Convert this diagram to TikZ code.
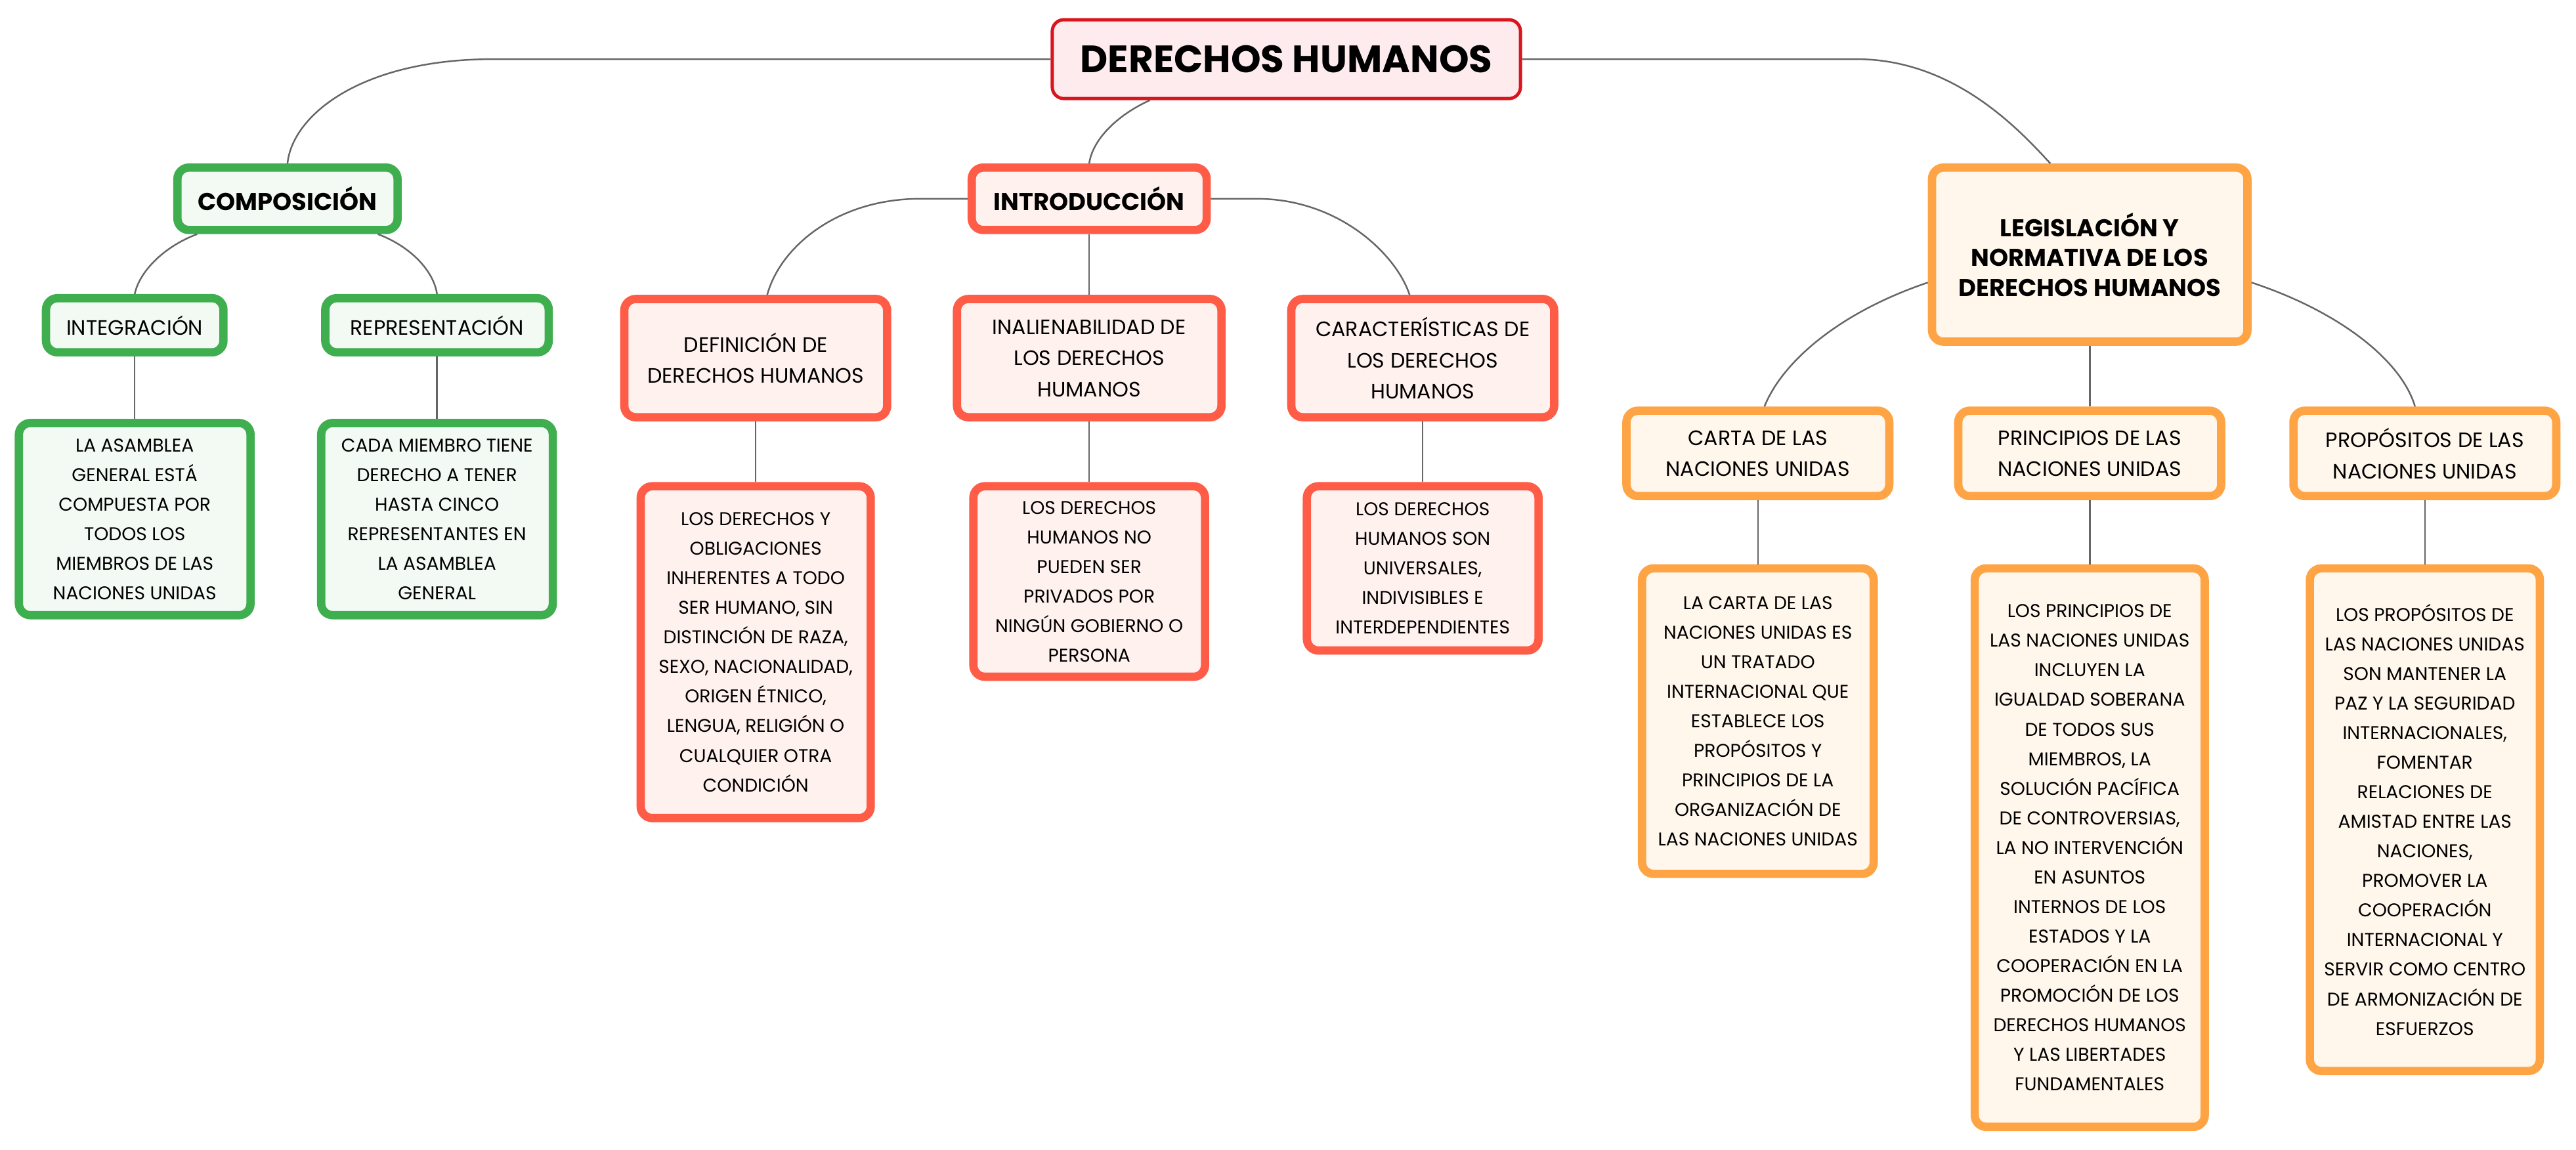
\documentclass[tikz,border=0pt]{standalone}
\usepackage{fontspec}
\setmainfont{Poppins}
\definecolor{gr}{HTML}{3FAE4E}\definecolor{grf}{HTML}{F3FAF4}
\definecolor{rd}{HTML}{FF5C48}\definecolor{rdf}{HTML}{FFF1EE}
\definecolor{or}{HTML}{FFA445}\definecolor{orf}{HTML}{FFF6EC}
\definecolor{rt}{HTML}{D9141C}\definecolor{rtf}{HTML}{FDEBEE}
\definecolor{ln}{HTML}{666666}
\tikzset{
 bx/.style={rounded corners=5pt,line width=3.6pt,align=center,inner sep=0pt},
 g/.style={bx,draw=gr,fill=grf},
 r/.style={bx,draw=rd,fill=rdf},
 o/.style={bx,draw=or,fill=orf},
 t1/.style={font=\fontsize{10.5}{13}\selectfont\bfseries},
 t2/.style={font=\fontsize{9}{13.5}\selectfont},
 t3/.style={font=\fontsize{8}{12.8}\selectfont},
 c/.style={draw=ln,line width=0.7pt}
}
\begin{document}
\begin{tikzpicture}[x=0.025cm,y=-0.025cm]
\useasboundingbox (0,0) rectangle (1568,700);
\node[draw=rt,fill=rtf,line width=1.4pt,rounded corners=5pt,minimum width=285*0.025cm,minimum height=48*0.025cm,font=\fontsize{16.5}{20}\selectfont\bfseries] (root) at (783,36) {DERECHOS HUMANOS};
\node[g,t1,minimum width=134*0.025cm,minimum height=38*0.025cm] (com) at (175,121) {COMPOSICIÓN};
\node[r,t1,minimum width=143*0.025cm,minimum height=38*0.025cm] (int) at (663,121) {INTRODUCCIÓN};
\node[o,t1,minimum width=192*0.025cm,minimum height=106*0.025cm] (leg) at (1272,155) {LEGISLACIÓN Y\\NORMATIVA DE LOS\\DERECHOS HUMANOS};
\node[g,t2,minimum width=108*0.025cm,minimum height=33*0.025cm] (ig) at (82,198) {INTEGRACIÓN};
\node[g,t2,minimum width=136*0.025cm,minimum height=33*0.025cm] (rp) at (266,198) {REPRESENTACIÓN};
\node[g,t3,minimum width=141*0.025cm,minimum height=117*0.025cm] (l1) at (82,316) {LA ASAMBLEA\\GENERAL ESTÁ\\COMPUESTA POR\\TODOS LOS\\MIEMBROS DE LAS\\NACIONES UNIDAS};
\node[g,t3,minimum width=141*0.025cm,minimum height=117*0.025cm] (l2) at (266,316) {CADA MIEMBRO TIENE\\DERECHO A TENER\\HASTA CINCO\\REPRESENTANTES EN\\LA ASAMBLEA\\GENERAL};
\node[r,t2,minimum width=160*0.025cm,minimum height=72*0.025cm] (df) at (460,218) {DEFINICIÓN DE\\DERECHOS HUMANOS};
\node[r,t2,minimum width=161*0.025cm,minimum height=72*0.025cm] (in) at (663,218) {INALIENABILIDAD DE\\LOS DERECHOS\\HUMANOS};
\node[r,t2,minimum width=160*0.025cm,minimum height=72*0.025cm] (ca) at (866,218) {CARACTERÍSTICAS DE\\LOS DERECHOS\\HUMANOS};
\node[r,t3,minimum width=140*0.025cm,minimum height=202*0.025cm] (l3) at (460,397) {LOS DERECHOS Y\\OBLIGACIONES\\INHERENTES A TODO\\SER HUMANO, SIN\\DISTINCIÓN DE RAZA,\\SEXO, NACIONALIDAD,\\ORIGEN ÉTNICO,\\LENGUA, RELIGIÓN O\\CUALQUIER OTRA\\CONDICIÓN};
\node[r,t3,minimum width=141*0.025cm,minimum height=116*0.025cm] (l4) at (663,354) {LOS DERECHOS\\HUMANOS NO\\PUEDEN SER\\PRIVADOS POR\\NINGÚN GOBIERNO O\\PERSONA};
\node[r,t3,minimum width=141*0.025cm,minimum height=100*0.025cm] (l5) at (866,346) {LOS DERECHOS\\HUMANOS SON\\UNIVERSALES,\\INDIVISIBLES E\\INTERDEPENDIENTES};
\node[o,t2,minimum width=160*0.025cm,minimum height=52*0.025cm] (cn) at (1070,276) {CARTA DE LAS\\NACIONES UNIDAS};
\node[o,t2,minimum width=160*0.025cm,minimum height=52*0.025cm] (pn) at (1272,276) {PRINCIPIOS DE LAS\\NACIONES UNIDAS};
\node[o,t2,minimum width=160*0.025cm,minimum height=52*0.025cm] (ps) at (1476,276) {PROPÓSITOS DE LAS\\NACIONES UNIDAS};
\node[o,t3,minimum width=141*0.025cm,minimum height=186*0.025cm] (l6) at (1070,439) {LA CARTA DE LAS\\NACIONES UNIDAS ES\\UN TRATADO\\INTERNACIONAL QUE\\ESTABLECE LOS\\PROPÓSITOS Y\\PRINCIPIOS DE LA\\ORGANIZACIÓN DE\\LAS NACIONES UNIDAS};
\node[o,t3,minimum width=140*0.025cm,minimum height=340*0.025cm] (l7) at (1272,516) {LOS PRINCIPIOS DE\\LAS NACIONES UNIDAS\\INCLUYEN LA\\IGUALDAD SOBERANA\\DE TODOS SUS\\MIEMBROS, LA\\SOLUCIÓN PACÍFICA\\DE CONTROVERSIAS,\\LA NO INTERVENCIÓN\\EN ASUNTOS\\INTERNOS DE LOS\\ESTADOS Y LA\\COOPERACIÓN EN LA\\PROMOCIÓN DE LOS\\DERECHOS HUMANOS\\Y LAS LIBERTADES\\FUNDAMENTALES};
\node[o,t3,minimum width=140*0.025cm,minimum height=306*0.025cm] (l8) at (1476,499) {LOS PROPÓSITOS DE\\LAS NACIONES UNIDAS\\SON MANTENER LA\\PAZ Y LA SEGURIDAD\\INTERNACIONALES,\\FOMENTAR\\RELACIONES DE\\AMISTAD ENTRE LAS\\NACIONES,\\PROMOVER LA\\COOPERACIÓN\\INTERNACIONAL Y\\SERVIR COMO CENTRO\\DE ARMONIZACIÓN DE\\ESFUERZOS};
% connectors
\begin{scope}[on background layer/.try]
\draw[c] (root.west) -- (300,36) .. controls (220,36) and (178,70) .. (com.north);
\draw[c] ([xshift=-83*0.025cm]root.south) .. controls (680,70) and (665,85) .. (int.north);
\draw[c] (root.east) -- (1130,36) .. controls (1190,36) and (1230,80) .. ([xshift=-24*0.025cm]leg.north);
\draw[c] ([xshift=-55*0.025cm]com.south) .. controls (100,150) and (85,165) .. (ig.north);
\draw[c] ([xshift=55*0.025cm]com.south) .. controls (250,150) and (264,165) .. (rp.north);
\draw[c] (int.west) -- (560,121) .. controls (510,121) and (475,150) .. ([xshift=7*0.025cm]df.north);
\draw[c] (int.south) -- (in.north);
\draw[c] (int.east) -- (765,121) .. controls (815,121) and (850,155) .. ([xshift=-8*0.025cm]ca.north);
\draw[c] ([yshift=-17*0.025cm]leg.west) .. controls (1120,190) and (1085,220) .. ([xshift=4*0.025cm]cn.north);
\draw[c] (leg.south) -- (pn.north);
\draw[c] ([yshift=-17*0.025cm]leg.east) .. controls (1425,190) and (1462,220) .. ([xshift=-6*0.025cm]ps.north);
\draw[c] (ig.south) -- (l1.north);
\draw[c] (rp.south) -- (l2.north);
\draw[c] (df.south) -- (l3.north);
\draw[c] (in.south) -- (l4.north);
\draw[c] (ca.south) -- (l5.north);
\draw[c] (cn.south) -- (l6.north);
\draw[c] (pn.south) -- (l7.north);
\draw[c] (ps.south) -- (l8.north);
\end{scope}
\end{tikzpicture}
\end{document}
